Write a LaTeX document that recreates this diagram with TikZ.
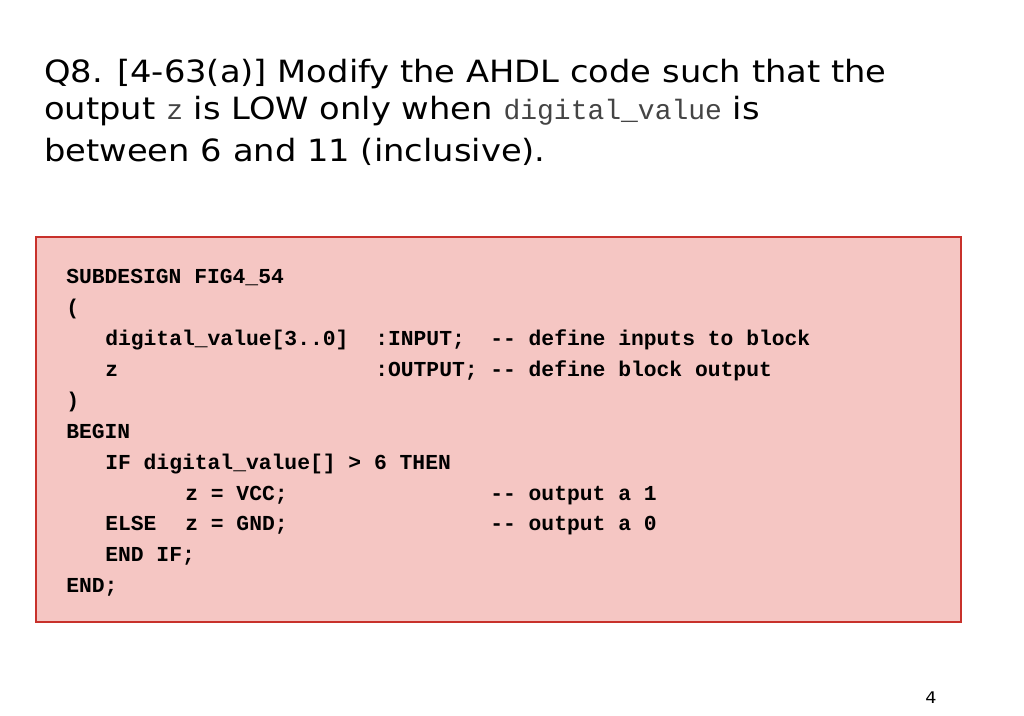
\documentclass[tikz,border=0pt]{standalone}
\usepackage{fontspec}
\setmainfont{DejaVu Sans}[FakeStretch=1.1]
\newfontfamily\codefont{Liberation Mono}
\definecolor{boxfill}{HTML}{F5C6C3}
\definecolor{boxline}{HTML}{C8312B}
\definecolor{inl}{HTML}{444444}
\begin{document}
\begin{tikzpicture}[x=0.75pt,y=-0.75pt,
  ttl/.style={anchor=base west,inner sep=0,font=\fontsize{23}{27}\selectfont},
  code/.style={anchor=base west,inner sep=0,font=\codefont\bfseries\fontsize{16}{19}\selectfont}]
\useasboundingbox (0,0) rectangle (1024,715);
\node[ttl] (t1) at (44,82) {Q8. [4-63(a)] Modify the AHDL code such that the};
\node[ttl] (t2) at (44,119) {output {\codefont\color{inl}\fontsize{21}{25}\selectfont z} is LOW only when {\codefont\color{inl}\fontsize{21}{25}\selectfont digital\_value} is};
\node[ttl] (t3) at (44,161) {between 6 and 11 (inclusive).};
\draw[boxline,fill=boxfill,line width=1.2pt] (36,237) rectangle (961,622);
\node[code] (c1) at (66,283) {SUBDESIGN FIG4\_54};
\node[code] (c2) at (66,314) {(};
\node[code] (c3) at (105,345) {digital\_value[3..0]};
\node[code] (c3b) at (375,345) {:INPUT;};
\node[code] (c3c) at (490,345) {-- define inputs to block};
\node[code] (c4) at (105,376) {z};
\node[code] (c4b) at (375,376) {:OUTPUT;};
\node[code] (c4c) at (490,376) {-- define block output};
\node[code] (c5) at (66,407) {)};
\node[code] (c6) at (66,438) {BEGIN};
\node[code] (c7) at (105,469) {IF digital\_value[] > 6 THEN};
\node[code] (c8) at (185,500) {z = VCC;};
\node[code] (c8c) at (490,500) {-- output a 1};
\node[code] (c9) at (105,530) {ELSE};
\node[code] (c9b) at (185,530) {z = GND;};
\node[code] (c9c) at (490,530) {-- output a 0};
\node[code] (c10) at (105,561) {END IF;};
\node[code] (c11) at (66,592) {END;};
\node[anchor=base west,inner sep=0,font=\fontsize{12}{14}\selectfont] (pg) at (925,703) {4};
\end{tikzpicture}
\end{document}
